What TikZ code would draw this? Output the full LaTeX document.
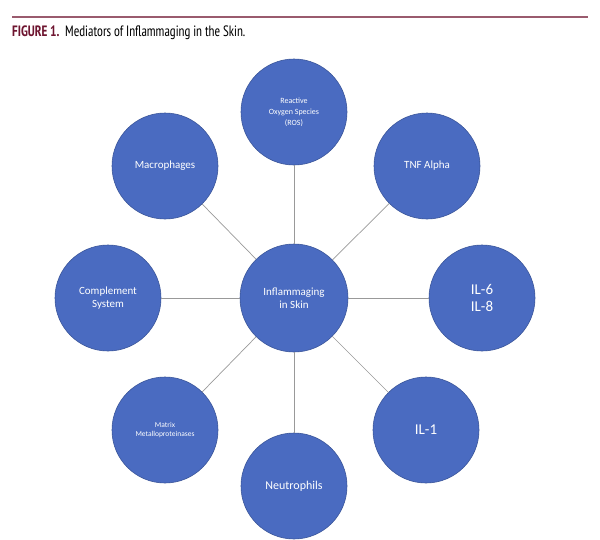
\documentclass[tikz,border=0pt]{standalone}
\usepackage{fontspec}
\setmainfont{Carlito}
\newfontfamily\titlefont{PT Sans Narrow}[FakeStretch=0.9]
\definecolor{circ}{HTML}{4A6BC1}
\definecolor{maroon}{HTML}{6E1530}
\begin{document}
\begin{tikzpicture}[x=1pt,y=-1pt,
  bub/.style={circle,fill=circ,draw=circ!80!black,line width=0.6pt,minimum size=106pt,inner sep=0pt,align=center,text=white,font=\fontsize{11}{13}\selectfont},
  link/.style={draw=gray!80,line width=0.7pt}]
\useasboundingbox (0,0) rectangle (600,539);
\draw[maroon!70,line width=1.2pt] (12,17) -- (588,17);
\node[anchor=west,inner sep=0pt] (title) at (12,33) {\titlefont\fontsize{15}{17}\selectfont{\bfseries\color{maroon}FIGURE 1.}\ \ Mediators of Inflammaging in the Skin.};
\node[bub,minimum size=108pt] (c) at (294,298) {Inflammaging\\in Skin};
\node[bub,font=\fontsize{8}{11}\selectfont] (ros) at (294,112) {Reactive\\Oxygen Species\\(ROS)};
\node[bub] (tnf) at (427,166) {TNF Alpha};
\node[bub,font=\fontsize{15}{17}\selectfont] (il6) at (482,298) {IL-6\\IL-8};
\node[bub,font=\fontsize{15}{17}\selectfont] (il1) at (426,430) {IL-1};
\node[bub,font=\fontsize{12}{14}\selectfont] (neu) at (294,486) {Neutrophils};
\node[bub,font=\fontsize{7.5}{9}\selectfont] (mmp) at (165,430) {Matrix\\Metalloproteinases};
\node[bub] (comp) at (108,298) {Complement\\System};
\node[bub] (mac) at (165,166) {Macrophages};
\foreach \n in {ros,tnf,il6,il1,neu,mmp,comp,mac} \draw[link] (c) -- (\n);
\end{tikzpicture}
\end{document}
